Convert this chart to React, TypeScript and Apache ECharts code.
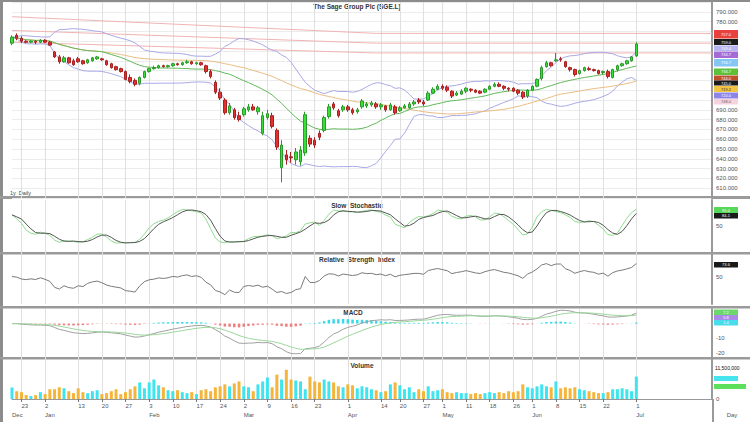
import React, { useEffect, useRef } from "react";
import * as echarts from "echarts";

const FONT = "'Liberation Sans', Arial, sans-serif";

// ---- categories (UK trading calendar) ----
const FIRST_DAY = "2019-12-19";
const CATEGORY_COUNT = 149; // 133 trading days shown + empty room on the right
const HOLIDAYS = ["2019-12-25", "2019-12-26", "2020-01-01", "2020-04-10", "2020-04-13", "2020-05-08", "2020-05-25"];
const MONTH_NAMES = ["Jan", "Feb", "Mar", "Apr", "May", "Jun", "Jul", "Aug", "Sep", "Oct", "Nov", "Dec"];

// ---- daily prices (pence) ----
const opens = [758,766,763,760,759,760,759,761,759,749, 744,739,743,740,742,740,738,740,742,742, 740,737,734,732,729,723,720,717,723,729, 732,733,735,734,735,737,736,738,739,737, 738,735,729,718,708,700,687,690,684,685, 690,693,688,666,682,684,669,631,644,642, 639,637,646,661,659,666,669,683,696,689, 690,693,690,688,693,694,695,696,693,694, 690,693,689,692,692,696,700,698,700,707, 711,714,713,709,705,706,709,711,710,709, 708,711,714,716,714,712,712,710,708,704, 710,714,722,734,738,740,742,739,733,731, 727,730,732,731,730,728,729,723,731,735, 737,740,745];
const closes = [764,763,760,759,760,759,761,759,756,744, 739,743,738,736,739,737,741,743,744,741, 736,733,731,729,721,719,716,723,729,732, 733,735,734,735,737,736,738,739,737,738, 736,729,724,708,702,687,694,682,680,691, 693,690,692,684,686,673,652,654,639,641, 647,649,685,655,654,662,682,693,692,684, 693,690,687,690,699,696,697,693,695,690, 695,687,692,694,696,698,698,696,707,711, 714,712,710,704,707,709,712,710,708,707, 711,714,716,714,712,711,709,707,703,710, 714,721,733,738,735,741,741,734,731,726, 730,733,731,730,727,729,724,731,735,737, 740,744,757];
const highs = [766,768,765,761,761,761,762,762,760,750, 746,745,744,742,744,741,742,744,745,743, 741,738,735,733,730,726,722,724,730,733, 735,736,736,736,738,738,739,741,740,739, 739,736,731,720,712,702,697,692,688,693, 696,696,694,688,690,687,671,659,649,647, 651,653,688,664,662,669,684,696,698,691, 695,695,692,692,701,698,699,698,697,695, 697,695,694,696,698,700,702,700,709,713, 716,716,715,710,709,711,713,712,711,710, 712,715,718,718,715,713,713,711,709,711, 715,722,735,740,739,748,744,740,734,732, 731,734,734,732,731,730,731,732,736,738, 741,745,759];
const lows = [756,761,758,758,758,757,758,758,755,743, 737,738,737,735,738,736,737,739,741,740, 735,732,730,728,720,717,714,715,722,728, 731,732,733,733,734,735,735,737,736,736, 735,727,722,706,700,685,685,680,678,683, 688,689,685,664,680,671,649,616,634,636, 634,633,643,652,651,659,667,681,690,682, 688,688,685,686,691,692,693,691,690,688, 689,685,688,691,691,694,696,694,699,706, 710,710,708,702,704,705,707,708,707,706, 707,710,713,713,710,709,708,705,701,702, 709,713,720,733,734,739,739,733,729,724, 726,729,730,729,726,726,722,722,729,734, 736,739,744];
// ---- daily volume (millions of shares) ----
const volumes = [5.9,4,3.5,2,1.5,2,3.5,2.5,5,5, 6,5.5,4,3,5.5,3.5,3,4,4.5,2.5, 3,4,5,2.5,3.5,5,6.5,8.5,5.5,8.5, 10,7,6,4.5,4,4.5,3.5,3,3.5,2.5, 4.5,5,4,6,6.5,7.5,6.5,8,9,6.5, 6,4,7.5,9,11,6,12.5,10,15,10, 9.5,9,5,11.5,9,8.5,10,9,8.5,6.5, 6,7.5,7,5.5,6.5,6,5,4.5,3.5,4, 7.5,8.5,7,5,6,3.5,5,4,6.5,4, 4.5,5,3.5,3,3.5,3,3,2.5,3,2.5, 3,3.5,3,3.5,3,4,3.5,4,7.5,6, 5.5,6.5,7.5,6.5,6,9,5.5,6,5.5,6, 5,4.5,4,3.5,3,3,3.5,5,5,5.5, 5,4,11.5];

// ---- drawn resistance / trend lines (pence at category points) ----
const trendIdx = [0, 77, 148];
const trendLines = [
  [785, 768, 768],
  [771, 758, 758],
  [759, 748, 748],
];

// ---- indicator settings ----
const STOCH = { look: 14, smoothK: 3, smoothD: 3 };
const RSI_N = 14;
const BB = { n: 20, k: 2 };

// ---- axis tick values ----
const priceAxis = { min: 600, max: 800, step: 10 };
const priceHiddenLabels = { from: 700, to: 770 }; // covered by the value tags
const stochAxis = { min: -20, max: 120, step: 10 };
const rsiAxis = { min: 0, max: 100, step: 50 };
const macdAxis = { min: -25, max: 10, step: 5 };
const histAxis = { min: -50, max: 20 };
const volAxis = { min: 0, max: 20, step: 10 };

function tradingDays(start: string, n: number): string[] {
  const out: string[] = [];
  const d = new Date(start + "T00:00:00Z");
  while (out.length < n) {
    const dow = d.getUTCDay();
    const iso = d.toISOString().slice(0, 10);
    if (dow !== 0 && dow !== 6 && HOLIDAYS.indexOf(iso) < 0) out.push(iso);
    d.setUTCDate(d.getUTCDate() + 1);
  }
  return out;
}

function sma(a: number[], n: number): number[] {
  return a.map((_, i) => {
    const s = Math.max(0, i - n + 1);
    let t = 0;
    for (let j = s; j <= i; j++) t += a[j];
    return t / (i - s + 1);
  });
}
function stdev(a: number[], n: number): number[] {
  const m = sma(a, n);
  return a.map((_, i) => {
    const s = Math.max(0, i - n + 1);
    let t = 0;
    for (let j = s; j <= i; j++) t += (a[j] - m[i]) ** 2;
    return Math.sqrt(t / (i - s + 1));
  });
}
function ema(a: number[], n: number): number[] {
  const k = 2 / (n + 1);
  const out: number[] = [];
  a.forEach((v, i) => out.push(i === 0 ? v : v * k + out[i - 1] * (1 - k)));
  return out;
}
function rsi(c: number[], n: number): number[] {
  // Wilder smoothing, seeded neutrally with the mean absolute change of the first n days
  let seed = 0;
  const m = Math.min(n, c.length - 1);
  for (let i = 1; i <= m; i++) seed += Math.abs(c[i] - c[i - 1]);
  seed = seed / m / 2;
  let ag = seed, al = seed;
  const out: number[] = [50];
  for (let i = 1; i < c.length; i++) {
    const ch = c[i] - c[i - 1];
    ag = (ag * (n - 1) + Math.max(ch, 0)) / n;
    al = (al * (n - 1) + Math.max(-ch, 0)) / n;
    out.push(al === 0 ? 100 : 100 - 100 / (1 + ag / al));
  }
  return out;
}
function stochRaw(c: number[], h: number[], l: number[], n: number): number[] {
  return c.map((v, i) => {
    const s = Math.max(0, i - n + 1);
    let hh = -Infinity, ll = Infinity;
    for (let j = s; j <= i; j++) { hh = Math.max(hh, h[j]); ll = Math.min(ll, l[j]); }
    return hh === ll ? 50 : ((v - ll) / (hh - ll)) * 100;
  });
}
const r1 = (v: number) => Math.round(v * 100) / 100;

function buildOption() {
  const dates = tradingDays(FIRST_DAY, CATEGORY_COUNT);
  const N = closes.length;
  const ohlc = closes.map((c, i) => [opens[i], c, lows[i], highs[i]]);

  const mid = sma(closes, BB.n);
  const sd = stdev(closes, BB.n);
  const bbUp = mid.map((m, i) => r1(m + BB.k * sd[i]));
  const bbLo = mid.map((m, i) => r1(m - BB.k * sd[i]));
  const ma20 = mid.map(r1);
  const ma50 = sma(closes, 50).map(r1);
  const e12 = ema(closes, 12), e26 = ema(closes, 26);
  const macd = e12.map((v, i) => v - e26[i]);
  const sig = ema(macd, 9);
  const hist = macd.map((v, i) => r1(v - sig[i]));
  const k = sma(stochRaw(closes, highs, lows, STOCH.look), STOCH.smoothK);
  const dd = sma(k, STOCH.smoothD);
  const rs = rsi(closes, RSI_N);

  // weekly / monthly ticks
  const monthStart = new Set<number>();
  const weekStart = new Set<number>();
  monthStart.add(0);
  for (let i = 1; i < N; i++) {
    const a = new Date(dates[i] + "T00:00:00Z"), b = new Date(dates[i - 1] + "T00:00:00Z");
    if (a.getUTCMonth() !== b.getUTCMonth()) monthStart.add(i);
    if (a.getUTCDay() < b.getUTCDay() || (a.getTime() - b.getTime()) / 864e5 > 3) weekStart.add(i);
  }
  const ticks = new Set<number>();
  monthStart.forEach((i) => { if (i > 0) ticks.add(i); });
  weekStart.forEach((i) => {
    let near = false;
    monthStart.forEach((m) => { if (m > 0 && Math.abs(m - i) <= 3) near = true; });
    if (!near) ticks.add(i);
  });

  const L = 12, R = 38;
  const grids = [
    { left: L, right: R, top: 2, height: 196 },
    { left: L, right: R, top: 200, height: 52 },
    { left: L, right: R, top: 249, height: 55 },
    { left: L, right: R, top: 309, height: 51 },
    { left: L, right: R, top: 360, height: 39 },
  ];

  const baseX = (gi: number) => ({
    type: "category", gridIndex: gi, data: dates, boundaryGap: false,
    axisLine: { show: false }, axisTick: { show: false }, axisLabel: { show: false },
    splitLine: { show: true, interval: (i: number) => ticks.has(i), lineStyle: { color: "#e0e0e0", width: 1 } },
  });
  const xAxis: any[] = [0, 1, 2, 3].map(baseX);
  xAxis.push({
    ...baseX(4),
    axisLine: { show: true, lineStyle: { color: "#999", width: 1 } },
    axisTick: { show: true, interval: (i: number) => ticks.has(i), length: 3, lineStyle: { color: "#777" } },
    axisLabel: {
      show: true, interval: (i: number) => ticks.has(i), fontSize: 6, color: "#555", fontFamily: FONT, align: "left", margin: 4,
      formatter: (v: string) => String(Number(v.slice(8, 10))),
    },
  });
  xAxis.push({
    type: "category", gridIndex: 4, data: dates, boundaryGap: false, position: "bottom", offset: 9,
    axisLine: { show: false }, axisTick: { show: false }, splitLine: { show: false },
    axisLabel: {
      show: true, interval: (i: number) => monthStart.has(i), fontSize: 6, color: "#555", fontFamily: FONT, align: "left", margin: 4,
      formatter: (v: string) => MONTH_NAMES[Number(v.slice(5, 7)) - 1],
    },
  });
  // hidden axis for the MACD histogram (shares the MACD panel)
  xAxis.push({ ...baseX(3), splitLine: { show: false } });

  const axisLine = { show: true, lineStyle: { color: "#9a9a9a", width: 2 } };
  const lbl = (fmt: (v: number) => string) => ({ fontSize: 6, color: "#555", fontFamily: FONT, margin: 4, formatter: fmt });
  const yAxis: any[] = [
    {
      type: "value", gridIndex: 0, position: "right", min: priceAxis.min, max: priceAxis.max, interval: priceAxis.step,
      axisLine, axisTick: { show: false },
      axisLabel: {
        ...lbl((v) => (v >= priceHiddenLabels.from && v <= priceHiddenLabels.to ? "" : v.toFixed(3))),
        showMinLabel: false, showMaxLabel: false,
      },
      splitLine: { lineStyle: { color: "#ececec" } },
    },
    {
      type: "value", gridIndex: 1, position: "right", min: stochAxis.min, max: stochAxis.max, interval: stochAxis.step,
      axisLine, axisTick: { show: false }, axisLabel: lbl((v) => (v === 50 ? "50" : "")),
      splitLine: { show: false },
    },
    {
      type: "value", gridIndex: 2, position: "right", min: rsiAxis.min, max: rsiAxis.max, interval: rsiAxis.step,
      axisLine, axisTick: { show: false }, axisLabel: lbl((v) => (v === 50 ? "50" : "")),
      splitLine: { show: false },
    },
    {
      type: "value", gridIndex: 3, position: "right", min: macdAxis.min, max: macdAxis.max, interval: macdAxis.step,
      axisLine, axisTick: { show: false }, axisLabel: lbl((v) => (v === -10 || v === -20 ? String(v) : "")),
      splitLine: { show: false },
    },
    {
      type: "value", gridIndex: 4, position: "right", min: volAxis.min, max: volAxis.max, interval: volAxis.step,
      axisLine, axisTick: { show: false }, axisLabel: lbl((v) => (v === 0 ? "0" : "")),
      splitLine: { show: false },
    },
    {
      type: "value", gridIndex: 3, position: "right", min: histAxis.min, max: histAxis.max, show: false,
      splitLine: { show: false },
    },
  ];

  const line = (name: string, data: any[], color: string, xi: number, width = 1, z = 2) => ({
    name, type: "line", xAxisIndex: xi, yAxisIndex: xi, data, symbol: "none", showSymbol: false,
    lineStyle: { color, width }, z, silent: true,
  });

  const series: any[] = [];
  trendLines.forEach((vals, t) => {
    series.push({ ...line("trend" + t, trendIdx.map((ix, j) => [ix, vals[j]]), "#f1b3b3", 0), z: 1 });
  });
  series.push(line("bbUp", bbUp, "#a9a9e6", 0));
  series.push(line("bbLo", bbLo, "#a9a9e6", 0));
  series.push(line("ma50", ma50, "#e9bd82", 0));
  series.push(line("ma20", ma20, "#62b85a", 0));
  series.push({
    name: "price", type: "candlestick", xAxisIndex: 0, yAxisIndex: 0, data: ohlc, barWidth: 3, clip: false, z: 5,
    itemStyle: { color: "#36e036", color0: "#e23030", borderColor: "#2a9a2a", borderColor0: "#a82020", borderWidth: 1 },
  });
  series.push(line("stochK", k.map(r1), "#8fdc8f", 1));
  series.push(line("stochD", dd.map(r1), "#555555", 1));
  series.push(line("rsi", rs.map(r1), "#7a7a7a", 2));
  series.push({
    name: "hist", type: "bar", xAxisIndex: 6, yAxisIndex: 5, barWidth: 2.5,
    data: hist.map((v) => ({ value: v, itemStyle: { color: v >= 0 ? "#3ad8e8" : "#ee7d7d" } })),
  });
  series.push(line("macd", macd.map(r1), "#a0a0a0", 3));
  series.push(line("signal", sig.map(r1), "#9ad89a", 3));
  series.push({
    name: "volume", type: "bar", xAxisIndex: 4, yAxisIndex: 4, barWidth: 3,
    data: volumes.map((v, i) => ({ value: v, itemStyle: { color: closes[i] >= opens[i] ? "#3ee4ee" : "#f4b53a" } })),
  });

  // value tags on the right
  const last = N - 1;
  const tag = (y: number, h: number, fill: string, text: string, w = 24, tc = "#fff") => ({
    type: "group", children: [
      { type: "rect", shape: { x: 714, y, width: w, height: h }, style: { fill } },
      { type: "text", style: { x: 714 + w / 2, y: y + h / 2, text, fill: tc, fontSize: 4, fontFamily: FONT, align: "center", verticalAlign: "middle" } },
    ],
  });
  const f = (v: number) => v.toFixed(1);
  const graphic: any[] = [
    { type: "rect", shape: { x: 714, y: 28, width: 36, height: 78 }, style: { fill: "#fff" } },
    tag(30, 8.5, "#e8403c", f(closes[last])),
    tag(39, 6, "#1a1a1a", f(highs[last])),
    tag(45.5, 5.5, "#b7b4f2", f(bbUp[last])),
    tag(51.5, 6.5, "#a46ad6", f(ma20[last])),
    tag(59, 7.5, "#86c6f4", f(mid[last])),
    tag(68.5, 6.5, "#5cc03a", f(ma20[last])),
    tag(75.5, 5, "#c0502c", f(lows[last])),
    tag(80.5, 5, "#1a1a1a", f(opens[last])),
    tag(86, 6, "#f2c440", f(ma50[last]), 24, "#333"),
    tag(92.5, 6, "#8c84e6", f(bbLo[last])),
    tag(99, 5.5, "#f6d2de", f(trendLines[2][2]), 24, "#666"),
    // stochastic
    tag(207, 6, "#58d858", f(k[last])),
    tag(213, 5.5, "#1a1a1a", f(dd[last])),
    // rsi
    tag(262, 5.5, "#1a1a1a", f(rs[last])),
    // macd
    tag(309.5, 5.5, "#6ad86a", f(macd[last])),
    tag(315, 5, "#a98ae8", f(sig[last])),
    tag(320, 5.5, "#48dcec", f(hist[last])),
    // volume
    { type: "text", style: { x: 715, y: 368, text: (volumes[last] * 1e6).toLocaleString("en-GB"), fill: "#111", fontSize: 5, fontFamily: FONT, verticalAlign: "middle" } },
    tag(376, 5, "#48e4ee", "", 24),
    tag(384, 5, "#5ce05c", "", 32),
    // frame and separators
    { type: "rect", shape: { x: 0, y: 0, width: 750, height: 2 }, style: { fill: "#8c8c8c" } },
    { type: "rect", shape: { x: 0, y: 0, width: 3, height: 422 }, style: { fill: "#8c8c8c" } },
    { type: "rect", shape: { x: 0, y: 196, width: 750, height: 3 }, style: { fill: "#9a9a9a" } },
    { type: "rect", shape: { x: 0, y: 252, width: 750, height: 2.5 }, style: { fill: "#9a9a9a" } },
    { type: "rect", shape: { x: 0, y: 306, width: 750, height: 2.5 }, style: { fill: "#9a9a9a" } },
    { type: "rect", shape: { x: 0, y: 357, width: 750, height: 2.5 }, style: { fill: "#9a9a9a" } },
    { type: "rect", shape: { x: 712, y: 399, width: 2, height: 23 }, style: { fill: "#9a9a9a" } },
    // texts
    { type: "text", style: { x: 357, y: 6, text: "The Sage Group Plc (SGE.L)", fill: "#333", fontSize: 6.5, fontWeight: "bold", fontFamily: FONT, align: "center", verticalAlign: "middle" } },
    { type: "text", style: { x: 10, y: 192.5, text: "1y  Daily", fill: "#444", fontSize: 5.5, fontFamily: FONT, verticalAlign: "middle" } },
    { type: "text", style: { x: 357, y: 205, text: "Slow  Stochastic", fill: "#333", fontSize: 6.5, fontWeight: "bold", fontFamily: FONT, align: "center", verticalAlign: "middle" } },
    { type: "text", style: { x: 357, y: 259, text: "Relative  Strength  Index", fill: "#333", fontSize: 6.5, fontWeight: "bold", fontFamily: FONT, align: "center", verticalAlign: "middle" } },
    { type: "text", style: { x: 353, y: 312.5, text: "MACD", fill: "#333", fontSize: 6.5, fontWeight: "bold", fontFamily: FONT, align: "center", verticalAlign: "middle" } },
    { type: "text", style: { x: 362, y: 365, text: "Volume", fill: "#333", fontSize: 6.5, fontWeight: "bold", fontFamily: FONT, align: "center", verticalAlign: "middle" } },
    { type: "text", style: { x: 732, y: 415, text: "Day", fill: "#555", fontSize: 6, fontFamily: FONT, align: "center", verticalAlign: "middle" } },
  ];

  return {
    animation: false,
    backgroundColor: "#ffffff",
    textStyle: { fontFamily: FONT },
    grid: grids,
    xAxis,
    yAxis,
    series,
    graphic: { elements: graphic },
  };
}

export default function App() {
  const ref = useRef<HTMLDivElement>(null);
  useEffect(() => {
    const chart = echarts.init(ref.current!, undefined, { renderer: "svg" });
    chart.setOption(buildOption() as any);
    return () => chart.dispose();
  }, []);
  return (
    <div
      ref={ref}
      style={{ position: "fixed", left: 0, top: 0, width: 750, height: 422, background: "#fff" }}
    />
  );
}
